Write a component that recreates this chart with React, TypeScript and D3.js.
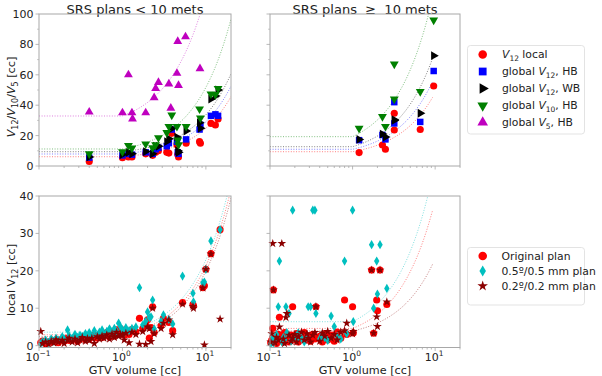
import React from 'react';
import * as d3 from 'd3';

const W = 602;
const H = 376;
const FONT = 'DejaVu Sans, sans-serif';

// ---- top row: global / local volumes vs GTV volume ----
const tlX = [0.4, 1.0, 1.18, 1.3, 1.9, 2.3, 2.5, 2.7, 3.4, 3.6, 3.9, 4.5, 4.6, 4.7, 5.8, 8.4, 8.6, 11.5, 13, 14];
const tlRed = [3, 5.5, 6, 6, 8, 7, 9, 10, 9, 8.5, 21.5, 14, 7.5, 6, 15, 16, 15, 28, 27, 31];
const tlBlue = [5.5, 7, 8, 7.5, 9, 8, 11, 12, 13, 15, 24, 16, 9, 8, 17.5, 24, 27, 33, 34, 33];
const tlBlack = [6, 7.5, 9, 8, 9.5, 8, 13, 13, 16, 18, 24.7, 19, 10, 9, 23, 28.5, 24.8, 44, 46, 50];
const tlGreen = [8, 9.4, 13.4, 11.8, 14.5, 12, 14, 18.6, 22, 26, 33.5, 26, 17, 14, 26, 37.5, 31.5, 47.4, 47, 51];
const tlMagX = [0.4, 1.0, 1.18, 1.3, 1.32, 1.9, 2.4, 2.5, 2.7, 3.6, 3.8, 4.5, 4.6, 4.7, 5.7, 8.5];
const tlMag = [35.5, 35, 60, 35, 31, 35, 45, 51, 55, 54, 38, 61, 82, 53, 85, 64];

const trX = [1.2, 2.3, 2.5, 3.2, 3.2, 6.6, 9.6];
const trRed = [8.8, 13.8, 11, 23.7, 34.7, 24, 52.6];
const trBlue = [17, 20.4, 17.5, 28, 42, 29, 62.5];
const trBlack = [17.5, 21, 19, 30, 30.5, 34.7, 72.6];
const trGreen = [24.8, 32.5, 26, 44, 67, 49, 96];

// fit lines: flat level below 1 cc, then slope per cc
const tlFitC = [6.1, 7.9, 9.4, 11.2, 32.9];
const tlFitK = [2.08, 2.35, 2.7, 4.5, 8.9];
const trFitC = [9.4, 11, 12.7, 19.3];
const trFitK = [4.3, 5.36, 7.0, 11];

// ---- bottom row: local V12 per plan type ----
const blX = [0.105, 0.11, 0.12, 0.13, 0.14, 0.15, 0.16, 0.17, 0.19, 0.2, 0.22, 0.23, 0.25, 0.27, 0.29, 0.31, 0.33, 0.36, 0.38, 0.4,
  0.43, 0.46, 0.5, 0.53, 0.57, 0.6, 0.65, 0.7, 0.75, 0.8, 0.85, 0.9, 0.95, 1.0, 1.05, 1.1, 1.2, 1.3, 1.45, 1.6,
  1.75, 1.9, 2.0, 2.1, 2.2, 2.3, 2.4, 2.9, 3.1, 3.6, 4.0, 5.25, 7.0, 7.1, 9.2, 9.6, 10.0, 11.5, 14.8];
const blOrig = [0.8, 1.2, 0.5, 1.0, 0.9, 1.3, 1.5, 0.8, 1.8, 1.2, 2.0, 1.4, 1.7, 2.2, 1.2, 1.9, 2.3, 1.6, 2.6, 1.8,
  2.3, 2.8, 2.0, 3.0, 2.2, 2.7, 3.5, 2.3, 3.8, 2.6, 4.2, 3.0, 4.5, 3.4, 2.8, 3.9, 3.0, 4.3, 3.7, 7.3,
  4.5, 5.5, 6.9, 2.0, 4.8, 10.4, 3.5, 5.3, 7.3, 6.2, 4.0, 11.5, 11.0, 10.6, 15.5, 16, 20.4, 24.6, 31];
const blCoarse = [0.5, 1.0, 1.5, 0.8, 1.8, 1.2, 2.0, 1.5, 2.4, 1.8, 4.2, 2.6, 2.0, 3.0, 2.2, 2.8, 2.5, 3.2, 2.0, 3.5,
  2.6, 4.0, 2.8, 3.6, 4.2, 3.0, 3.8, 4.5, 3.2, 4.6, 3.9, 6.0, 5.0, 4.2, 3.5, 4.8, 4.0, 4.6, 5.0, 15.5,
  5.5, 6.5, 9.0, 7.5, 7.7, 12.2, 4.5, 6.5, 8.2, 7.0, 5.8, 18.6, 14.0, 11.7, 16.8, 17, 20.4, 28, 31];
const blFine = [3.8, 0.6, 1.0, 0.4, 1.2, 0.7, 1.6, 1.0, 1.4, 0.6, 1.5, 2.0, 1.0, 1.8, 0.8, 1.5, 2.2, 1.2, 1.9, 1.4,
  2.0, 0.6, 2.4, 1.8, 2.6, 2.0, 2.9, 1.8, 3.1, 2.2, 3.6, 2.5, 3.0, 2.8, 1.5, 3.3, 0.8, 3.6, 3.0, 0.4,
  3.8, 0.3, 5.0, 4.5, 1.1, 10.0, 3.2, 4.6, 6.0, 6.9, 2.9, 11.1, 10.5, 10.0, 15.4, 0.2, 20.4, 24.5, 7.1];

const brX = [0.102, 0.105, 0.108, 0.11, 0.115, 0.12, 0.126, 0.13, 0.139, 0.145, 0.15, 0.156, 0.16, 0.17, 0.18, 0.188, 0.2, 0.21,
  0.22, 0.24, 0.26, 0.28, 0.29, 0.31, 0.33, 0.35, 0.36, 0.4, 0.43, 0.46, 0.5, 0.55, 0.6, 0.65, 0.72, 0.8, 0.85,
  1.0, 1.02, 1.7, 1.8, 1.96, 2.0, 2.15, 2.6];
const brOrig = [0.8, 1.5, 4.6, 14.9, 2.0, 0.6, 3.0, 7.6, 2.5, 1.0, 3.5, 1.8, 2.2, 1.0, 2.8, 10.4, 1.5, 3.2,
  1.0, 2.0, 3.5, 1.5, 2.6, 1.2, 3.0, 1.8, 10.4, 2.5, 1.0, 3.2, 1.5, 2.8, 1.2, 3.6, 2.0, 12.2, 3.0,
  10.4, 3.4, 20.2, 3.3, 12.2, 9.3, 20.2, 11.0];
const brCoarse = [0.5, 1.2, 2.0, 0.8, 1.5, 3.0, 10.4, 22.6, 1.0, 2.2, 1.6, 10.4, 3.5, 8.6, 1.2, 36.2, 2.6, 1.5,
  3.4, 2.0, 1.0, 2.4, 10.4, 10.4, 36.2, 36.2, 8.6, 1.8, 3.0, 2.2, 1.4, 7.9, 5.1, 2.5, 1.8, 22.6, 3.2,
  36.2, 6.4, 27, 10, 22.6, 13.8, 27, 15.3];
const brFine = [1.0, 3.2, 27.3, 14.9, 0.8, 2.2, 1.5, 5.0, 27.3, 1.8, 0.6, 7.5, 8.6, 2.8, 1.2, 2.0, 3.0, 1.0,
  2.4, 3.6, 1.5, 3.2, 2.0, 1.0, 2.8, 3.5, 10.4, 1.2, 3.4, 2.5, 3.8, 2.0, 3.0, 1.5, 3.6, 4.0, 6.0,
  3.2, 3.8, 20.2, 3.3, 7.7, 5.1, 20.2, 11.7];

const blFitC = [2.9, 3.6, 2.4];
const blFitK = [2.05, 2.15, 1.95];
const brFitC = [4.6, 6.4, 3.9];
const brFitK = [3.8, 4.7, 2.15];

const topColors = ['#ff0000', '#0000ff', '#000000', '#008000', '#bf00bf'];
const botColors = ['#ff0000', '#00bfbf', '#8b0000'];

const xDomain = [0.1, 20];
const spine = '#a8a8a8';
const TICK_FS = 11;
const LABEL_FS = 11.2;

const diamond = 'M0,-4.6L2.7,0L0,4.6L-2.7,0Z';
const shapes: Record<string, string> = {
  circle: d3.symbol().type(d3.symbolCircle).size(40)() as string,
  square: d3.symbol().type(d3.symbolSquare).size(42)() as string,
  tri: d3.symbol().type(d3.symbolTriangle).size(34)() as string,
  star: d3.symbol().type(d3.symbolStar).size(24)() as string,
  diamond,
};
const topShapes = [['circle', 0], ['square', 0], ['tri', 90], ['tri', 180], ['tri', 0]] as [string, number][];
const botShapes = [['circle', 0], ['diamond', 0], ['star', 0]] as [string, number][];

type Series = { xs: number[]; ys: number[]; shape: string; rot: number; color: string };
type Fit = { c: number; k: number; end: number; color: string };

function Panel(props: {
  id: string; left: number; right: number; top: number; bottom: number;
  yDomain: number[]; yTicks: number[]; yMinor: number[]; yLabels: boolean; xLabels: boolean;
  series: Series[]; fits: Fit[];
}) {
  const { id, left, right, top, bottom } = props;
  const x = d3.scaleLog().domain(xDomain).range([left, right]);
  const y = d3.scaleLinear().domain(props.yDomain).range([bottom, top]);
  const ticks = x.ticks();
  const isMajor = (t: number) => Math.abs(Math.log10(t) - Math.round(Math.log10(t))) < 1e-9;

  const fitPath = (f: Fit) => {
    const lo = Math.log10(xDomain[0]);
    const hi = Math.log10(f.end);
    const xs = d3.range(0, 81).map(i => Math.pow(10, lo + (hi - lo) * i / 80));
    return d3.line<number>().x(v => x(v)).y(v => y(v < 1 ? f.c : f.c + f.k * (v - 1)))(xs);
  };

  return (
    <g>
      <defs>
        <clipPath id={id}>
          <rect x={left} y={top} width={right - left} height={bottom - top} />
        </clipPath>
      </defs>
      <g clipPath={`url(#${id})`}>
        {props.fits.map((f, i) => (
          <path key={i} d={fitPath(f) || ''} fill="none" stroke={f.color} strokeOpacity={0.5}
            strokeWidth={1} strokeDasharray="1,1.6" />
        ))}
      </g>
      <g>
        {props.series.map((s, si) => (
          <g key={si} fill={s.color}>
            {s.xs.map((v, i) => (
              <path key={i} d={shapes[s.shape]}
                transform={`translate(${x(v)},${y(s.ys[i])}) rotate(${s.rot})`} />
            ))}
          </g>
        ))}
      </g>
      <rect x={left} y={top} width={right - left} height={bottom - top} fill="none" stroke={spine} strokeWidth={1} />
      {ticks.map((t, i) => {
        const major = isMajor(t);
        return <line key={i} x1={x(t)} x2={x(t)} y1={bottom} y2={bottom + (major ? 3.5 : 2)} stroke={spine} strokeWidth={0.8} />;
      })}
      {props.xLabels && ticks.filter(isMajor).map((t, i) => (
        <text key={i} x={x(t) - 1} y={bottom + 13} textAnchor="middle" fontSize={TICK_FS} fill="#222">
          10<tspan dy={-4.5} fontSize={7.5}>{Math.round(Math.log10(t)) < 0 ? '\u2212' : ''}{Math.abs(Math.round(Math.log10(t)))}</tspan>
        </text>
      ))}
      {props.yTicks.map((t, i) => (
        <line key={i} x1={left - 3.5} x2={left} y1={y(t)} y2={y(t)} stroke={spine} strokeWidth={0.8} />
      ))}
      {props.yMinor.map((t, i) => (
        <line key={'m' + i} x1={left - 2} x2={left} y1={y(t)} y2={y(t)} stroke={spine} strokeWidth={0.6} />
      ))}
      {props.yLabels && props.yTicks.map((t, i) => (
        <text key={i} x={left - 5.5} y={y(t) + 4} textAnchor="end" fontSize={TICK_FS} fill="#222">{t}</text>
      ))}
    </g>
  );
}

const zip = (xs: number[], ys: number[]) => ({ xs, ys });

export default function App() {
  const topTicks = [0, 20, 40, 60, 80, 100];
  const topMinor = [10, 30, 50, 70, 90];
  const botTicks = [0, 10, 20, 30, 40];

  const tlSeries: Series[] = [tlRed, tlBlue, tlBlack, tlGreen].map((ys, i) => ({
    ...zip(tlX, ys), shape: topShapes[i][0], rot: topShapes[i][1], color: topColors[i],
  }));
  tlSeries.push({ ...zip(tlMagX, tlMag), shape: 'tri', rot: 0, color: topColors[4] });
  const trSeries: Series[] = [trRed, trBlue, trBlack, trGreen].map((ys, i) => ({
    ...zip(trX, ys), shape: topShapes[i][0], rot: topShapes[i][1], color: topColors[i],
  }));
  const blSeries: Series[] = [blOrig, blCoarse, blFine].map((ys, i) => ({
    ...zip(blX, ys), shape: botShapes[i][0], rot: 0, color: botColors[i],
  }));
  const brSeries: Series[] = [brOrig, brCoarse, brFine].map((ys, i) => ({
    ...zip(brX, ys), shape: botShapes[i][0], rot: 0, color: botColors[i],
  }));

  const tlFits = tlFitC.map((c, i) => ({ c, k: tlFitK[i], end: 20, color: topColors[i] }));
  const trFits = trFitC.map((c, i) => ({ c, k: trFitK[i], end: 9.3, color: topColors[i] }));
  const blFits = blFitC.map((c, i) => ({ c, k: blFitK[i], end: 20, color: botColors[i] }));
  const brFits = brFitC.map((c, i) => ({ c, k: brFitK[i], end: 9.3, color: botColors[i] }));

  const topLegend = [
    <><tspan fontStyle="italic">V</tspan><tspan dy={2.5} fontSize={7.5}>12</tspan><tspan dy={-2.5}> local</tspan></>,
    <>global <tspan fontStyle="italic">V</tspan><tspan dy={2.5} fontSize={7.5}>12</tspan><tspan dy={-2.5}>, HB</tspan></>,
    <>global <tspan fontStyle="italic">V</tspan><tspan dy={2.5} fontSize={7.5}>12</tspan><tspan dy={-2.5}>, WB</tspan></>,
    <>global <tspan fontStyle="italic">V</tspan><tspan dy={2.5} fontSize={7.5}>10</tspan><tspan dy={-2.5}>, HB</tspan></>,
    <>global <tspan fontStyle="italic">V</tspan><tspan dy={2.5} fontSize={7.5}>5</tspan><tspan dy={-2.5}>, HB</tspan></>,
  ];
  const botLegend = ['Original plan', '0.5\u00ba/0.5 mm plan', '0.2\u00ba/0.2 mm plan'];

  return (
    <svg width={W} height={H} viewBox={`0 0 ${W} ${H}`}
      style={{ display: 'block', position: 'absolute', left: 0, top: 0, fontFamily: FONT }}>
      <rect width={W} height={H} fill="#fff" />
      <text x={135} y={13.5} textAnchor="middle" fontSize={13} fill="#222">SRS plans &lt; 10 mets</text>
      <text x={365} y={13.5} textAnchor="middle" fontSize={13} fill="#222" style={{ whiteSpace: 'pre' }}>SRS plans  ≥  10 mets</text>

      <Panel id="c1" left={39} right={231} top={14} bottom={166} yDomain={[0, 100]} yTicks={topTicks} yMinor={topMinor}
        yLabels xLabels={false} series={tlSeries} fits={tlFits} />
      <Panel id="c2" left={270} right={460} top={14} bottom={166} yDomain={[0, 100]} yTicks={topTicks} yMinor={topMinor}
        yLabels={false} xLabels={false} series={trSeries} fits={trFits} />
      <Panel id="c3" left={39} right={231} top={196} bottom={347.5} yDomain={[-0.5, 40]} yTicks={botTicks} yMinor={[]}
        yLabels xLabels series={blSeries} fits={blFits} />
      <Panel id="c4" left={270} right={460} top={196} bottom={347.5} yDomain={[-0.5, 40]} yTicks={botTicks} yMinor={[]}
        yLabels={false} xLabels series={brSeries} fits={brFits} />

      <text transform="translate(15,97) rotate(-90)" textAnchor="middle" fontSize={LABEL_FS} fill="#222">
        <tspan fontStyle="italic">V</tspan><tspan dy={2.5} fontSize={8}>12</tspan><tspan dy={-2.5}>/</tspan>
        <tspan fontStyle="italic">V</tspan><tspan dy={2.5} fontSize={8}>10</tspan><tspan dy={-2.5}>/</tspan>
        <tspan fontStyle="italic">V</tspan><tspan dy={2.5} fontSize={8}>5</tspan><tspan dy={-2.5}> [cc]</tspan>
      </text>
      <text transform="translate(15,280) rotate(-90)" textAnchor="middle" fontSize={LABEL_FS} fill="#222">
        local V<tspan dy={2.5} fontSize={8}>12</tspan><tspan dy={-2.5}> [cc]</tspan>
      </text>
      <text x={135} y={373.5} textAnchor="middle" fontSize={LABEL_FS} fill="#222">GTV volume [cc]</text>
      <text x={365} y={373.5} textAnchor="middle" fontSize={LABEL_FS} fill="#222">GTV volume [cc]</text>

      <rect x={467.5} y={45.5} width={117} height={88.5} rx={3} fill="#fff" stroke="#dcdcdc" strokeWidth={0.8} />
      {topLegend.map((lab, i) => (
        <g key={i}>
          <path d={shapes[topShapes[i][0]]} fill={topColors[i]}
            transform={`translate(482.7,${54.5 + i * 17}) rotate(${topShapes[i][1]}) scale(1.2)`} />
          <text x={502} y={58.3 + i * 17} fontSize={10.8} fill="#222">{lab}</text>
        </g>
      ))}

      <rect x={467.5} y={247.5} width={117} height={57.5} rx={3} fill="#fff" stroke="#dcdcdc" strokeWidth={0.8} />
      {botLegend.map((lab, i) => (
        <g key={i}>
          <path d={shapes[botShapes[i][0]]} fill={botColors[i]}
            transform={`translate(482.7,${256 + i * 15}) scale(1.2)`} />
          <text x={501.5} y={259.8 + i * 15} fontSize={10.8} fill="#222">{lab}</text>
        </g>
      ))}
    </svg>
  );
}
